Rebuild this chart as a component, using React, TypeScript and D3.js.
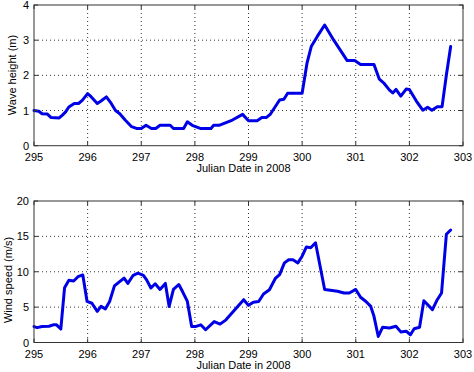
import React from 'react';
import * as d3 from 'd3';

const xTicks = [295, 296, 297, 298, 299, 300, 301, 302, 303];
const waveTicks = [0, 1, 2, 3, 4];
const windTicks = [0, 5, 10, 15, 20];

const waveDays = [295.0, 295.09, 295.15, 295.25, 295.32, 295.47, 295.53, 295.59, 295.65, 295.75, 295.83, 295.9, 296.0, 296.06, 296.18, 296.25, 296.35, 296.44, 296.52, 296.6, 296.7, 296.82, 296.91, 297.0, 297.09, 297.19, 297.27, 297.35, 297.54, 297.6, 297.79, 297.86, 297.95, 298.1, 298.3, 298.35, 298.45, 298.7, 298.89, 299.0, 299.16, 299.25, 299.33, 299.41, 299.58, 299.66, 299.73, 300.0, 300.09, 300.17, 300.28, 300.42, 300.59, 300.84, 300.98, 301.09, 301.34, 301.44, 301.53, 301.63, 301.69, 301.75, 301.84, 301.94, 302.0, 302.13, 302.25, 302.34, 302.42, 302.52, 302.61, 302.69, 302.77];
const waveHeight = [1.0, 0.98, 0.91, 0.9, 0.8, 0.79, 0.87, 0.96, 1.1, 1.2, 1.2, 1.29, 1.48, 1.4, 1.2, 1.27, 1.39, 1.2, 1.0, 0.91, 0.73, 0.54, 0.49, 0.49, 0.58, 0.49, 0.49, 0.58, 0.58, 0.49, 0.49, 0.68, 0.58, 0.49, 0.49, 0.58, 0.58, 0.73, 0.89, 0.71, 0.71, 0.8, 0.8, 0.9, 1.3, 1.32, 1.49, 1.49, 2.34, 2.82, 3.1, 3.43, 3.0, 2.42, 2.42, 2.31, 2.31, 1.89, 1.77, 1.58, 1.5, 1.6, 1.41, 1.61, 1.6, 1.27, 1.01, 1.09, 1.01, 1.11, 1.11, 2.01, 2.82];

const windDays = [295.0, 295.06, 295.15, 295.28, 295.36, 295.42, 295.5, 295.57, 295.65, 295.74, 295.82, 295.91, 295.99, 296.08, 296.18, 296.25, 296.33, 296.41, 296.5, 296.58, 296.68, 296.75, 296.85, 296.94, 297.04, 297.1, 297.18, 297.26, 297.35, 297.45, 297.52, 297.6, 297.7, 297.77, 297.86, 297.94, 298.01, 298.11, 298.2, 298.36, 298.47, 298.58, 298.91, 299.0, 299.09, 299.19, 299.28, 299.39, 299.5, 299.58, 299.67, 299.75, 299.83, 299.92, 300.0, 300.08, 300.16, 300.25, 300.42, 300.56, 300.66, 300.78, 300.88, 301.0, 301.09, 301.19, 301.28, 301.34, 301.42, 301.5, 301.63, 301.75, 301.84, 301.94, 302.02, 302.09, 302.19, 302.27, 302.43, 302.52, 302.6, 302.69, 302.77];
const windSpeed = [2.25, 2.1, 2.25, 2.3, 2.5, 2.5, 1.9, 7.75, 8.8, 8.7, 9.3, 9.55, 5.8, 5.55, 4.4, 5.1, 4.75, 5.8, 8.0, 8.5, 9.1, 8.35, 9.5, 9.8, 9.5, 8.85, 7.7, 8.3, 7.5, 8.35, 5.1, 7.5, 8.2, 7.2, 5.8, 2.25, 2.25, 2.5, 1.8, 2.95, 2.6, 3.2, 6.05, 5.25, 5.7, 5.8, 6.85, 7.45, 9.05, 9.6, 11.25, 11.7, 11.7, 11.25, 12.2, 13.5, 13.4, 14.1, 7.5, 7.35, 7.25, 7.0, 7.0, 7.5, 6.4, 5.8, 5.1, 3.7, 0.85, 2.15, 2.05, 2.3, 1.5, 1.6, 1.1, 1.95, 2.15, 5.9, 4.65, 6.05, 7.0, 15.3, 15.9];

const W = 474;
const H = 372;
const left = 34;
const right = 463;
const font = '"Liberation Sans", Arial, Helvetica, sans-serif';

type PanelProps = {
  top: number;
  bottom: number;
  days: number[];
  values: number[];
  yTicks: number[];
  yLabel: string;
  yLabelX: number;
  yLabelY: number;
};

const Panel = ({ top, bottom, days, values, yTicks, yLabel, yLabelX, yLabelY }: PanelProps) => {
  const x = d3.scaleLinear().domain([295, 303]).range([left, right]);
  const y = d3.scaleLinear().domain([yTicks[0], yTicks[yTicks.length - 1]]).range([bottom, top]);
  const line = d3.line<number>()
    .x((_, i) => x(days[i]))
    .y(d => y(d));

  return (
    <g>
      <rect x={left} y={top} width={right - left} height={bottom - top} fill="#fff" />
      {/* grid */}
      {xTicks.slice(1, -1).map(t => (
        <line key={'gx' + t} x1={x(t)} x2={x(t)} y1={top} y2={bottom}
          stroke="#000" strokeWidth={0.8} strokeDasharray="1,3" />
      ))}
      {yTicks.slice(1, -1).map(t => (
        <line key={'gy' + t} x1={left} x2={right} y1={y(t)} y2={y(t)}
          stroke="#000" strokeWidth={0.8} strokeDasharray="1,3" />
      ))}
      <path d={line(values) || ''} fill="none" stroke="#0000e6" strokeWidth={3}
        strokeLinejoin="round" strokeLinecap="round" />
      {/* ticks */}
      {xTicks.map(t => (
        <g key={'tx' + t}>
          <line x1={x(t)} x2={x(t)} y1={bottom} y2={bottom - 4} stroke="#333" />
          <line x1={x(t)} x2={x(t)} y1={top} y2={top + 4} stroke="#333" />
          <text x={x(t)} y={bottom + 15} textAnchor="middle" fontSize={11} fontFamily={font}>{t}</text>
        </g>
      ))}
      {yTicks.map(t => (
        <g key={'ty' + t}>
          <line x1={left} x2={left + 4} y1={y(t)} y2={y(t)} stroke="#333" />
          <line x1={right} x2={right - 4} y1={y(t)} y2={y(t)} stroke="#333" />
          <text x={left - 5} y={y(t) + 4} textAnchor="end" fontSize={11} fontFamily={font}>{t}</text>
        </g>
      ))}
      <rect x={left} y={top} width={right - left} height={bottom - top} fill="none" stroke="#333" strokeWidth={1} />
      <text x={(left + right) / 2 - 5} y={bottom + 26} textAnchor="middle" fontSize={11} fontFamily={font}>
        Julian Date in 2008
      </text>
      <text transform={`translate(${yLabelX},${yLabelY}) rotate(-90)`} textAnchor="middle"
        fontSize={11} fontFamily={font}>{yLabel}</text>
    </g>
  );
};

export default function App() {
  return (
    <svg width={W} height={H} style={{ position: 'absolute', left: 0, top: 0, background: '#fff' }}>
      <Panel top={5} bottom={145.7} days={waveDays} values={waveHeight} yTicks={waveTicks}
        yLabel="Wave height (m)" yLabelX={16} yLabelY={75} />
      <Panel top={201} bottom={342.5} days={windDays} values={windSpeed} yTicks={windTicks}
        yLabel="Wind speed (m/s)" yLabelX={12} yLabelY={280} />
    </svg>
  );
}
